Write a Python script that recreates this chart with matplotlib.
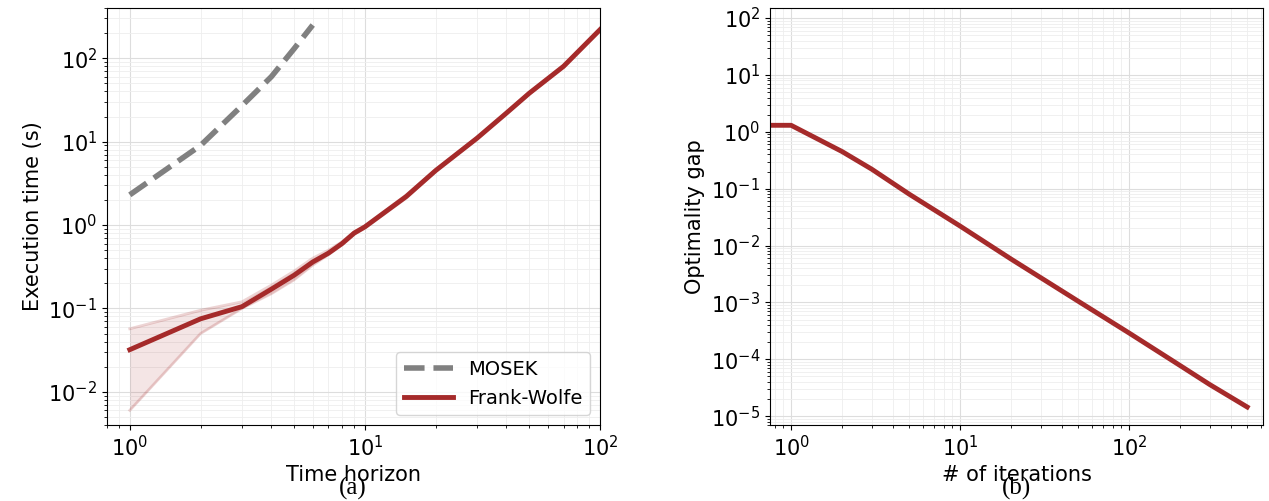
import matplotlib
matplotlib.use("Agg")
import matplotlib.pyplot as plt
import numpy as np

mosek_x = [1, 2, 3, 4, 5, 6]
mosek_y = [2.3, 9, 27, 60, 130, 250]
fw_x = [1, 2, 3, 4, 5, 6, 7, 8, 9, 10, 15, 20, 30, 40, 50, 70, 100]
fw_y = [0.032, 0.075, 0.105, 0.17, 0.25, 0.36, 0.46, 0.6, 0.8, 0.95, 2.2, 4.5, 11, 22, 38, 80, 220]
fw_lo = [0.006, 0.05, 0.1, 0.15, 0.22, 0.33, 0.44, 0.58, 0.77, 0.92, 2.1, 4.4, 10.8, 21.5, 37, 78, 215]
fw_hi = [0.057, 0.095, 0.12, 0.19, 0.28, 0.4, 0.5, 0.63, 0.83, 0.98, 2.3, 4.6, 11.3, 22.5, 39, 82, 225]

it_x = [0.75, 1, 2, 3, 5, 10, 20, 50, 100, 200, 300, 500]
gap_y = [1.3, 1.3, 0.45, 0.22, 0.08, 0.022, 0.0058, 0.00105, 0.00029, 7.8e-5, 3.6e-5, 1.45e-5]

red = '#a52a2a'
fig = plt.figure(figsize=(12.69, 5.01), dpi=100)
ax1 = fig.add_axes([107/1269, 1-425/501, 493/1269, 417/501])
ax2 = fig.add_axes([770/1269, 1-425/501, 493/1269, 417/501])

ax1.fill_between(fw_x, fw_lo, fw_hi, color=red, alpha=0.12, lw=0)
ax1.plot(fw_x, fw_lo, color=red, alpha=0.2, lw=2)
ax1.plot(fw_x, fw_hi, color=red, alpha=0.2, lw=2)
ax1.plot(mosek_x, mosek_y, '--', color='gray', lw=4, label='MOSEK')
ax1.plot(fw_x, fw_y, '-', color=red, lw=3.5, label='Frank-Wolfe')
ax1.set_xscale('log'); ax1.set_yscale('log')
ax1.set_xlim(0.8, 100); ax1.set_ylim(0.004, 400)
ax1.set_xlabel('Time horizon', fontsize=15)
ax1.set_ylabel('Execution time (s)', fontsize=15)
ax1.legend(loc='lower right', fontsize=14, handlelength=2.5)

ax2.plot(it_x, gap_y, color=red, lw=3.5)
ax2.set_xscale('log'); ax2.set_yscale('log')
ax2.set_xlim(0.75, 620); ax2.set_ylim(7e-6, 150)
ax2.set_xlabel('# of iterations', fontsize=15)
ax2.set_ylabel('Optimality gap', fontsize=15)

for ax in (ax1, ax2):
    ax.tick_params(labelsize=15)
    ax.grid(True, which='major', color='#dddddd', lw=0.8)
    ax.grid(True, which='minor', color='#eeeeee', lw=0.6)
    ax.set_axisbelow(True)

fig.text(353/1269, 1-488/501, '(a)', ha='center', va='center', fontsize=18, family='Liberation Serif')
fig.text(1016/1269, 1-488/501, '(b)', ha='center', va='center', fontsize=18, family='Liberation Serif')
fig.savefig('out.png', dpi=100)
